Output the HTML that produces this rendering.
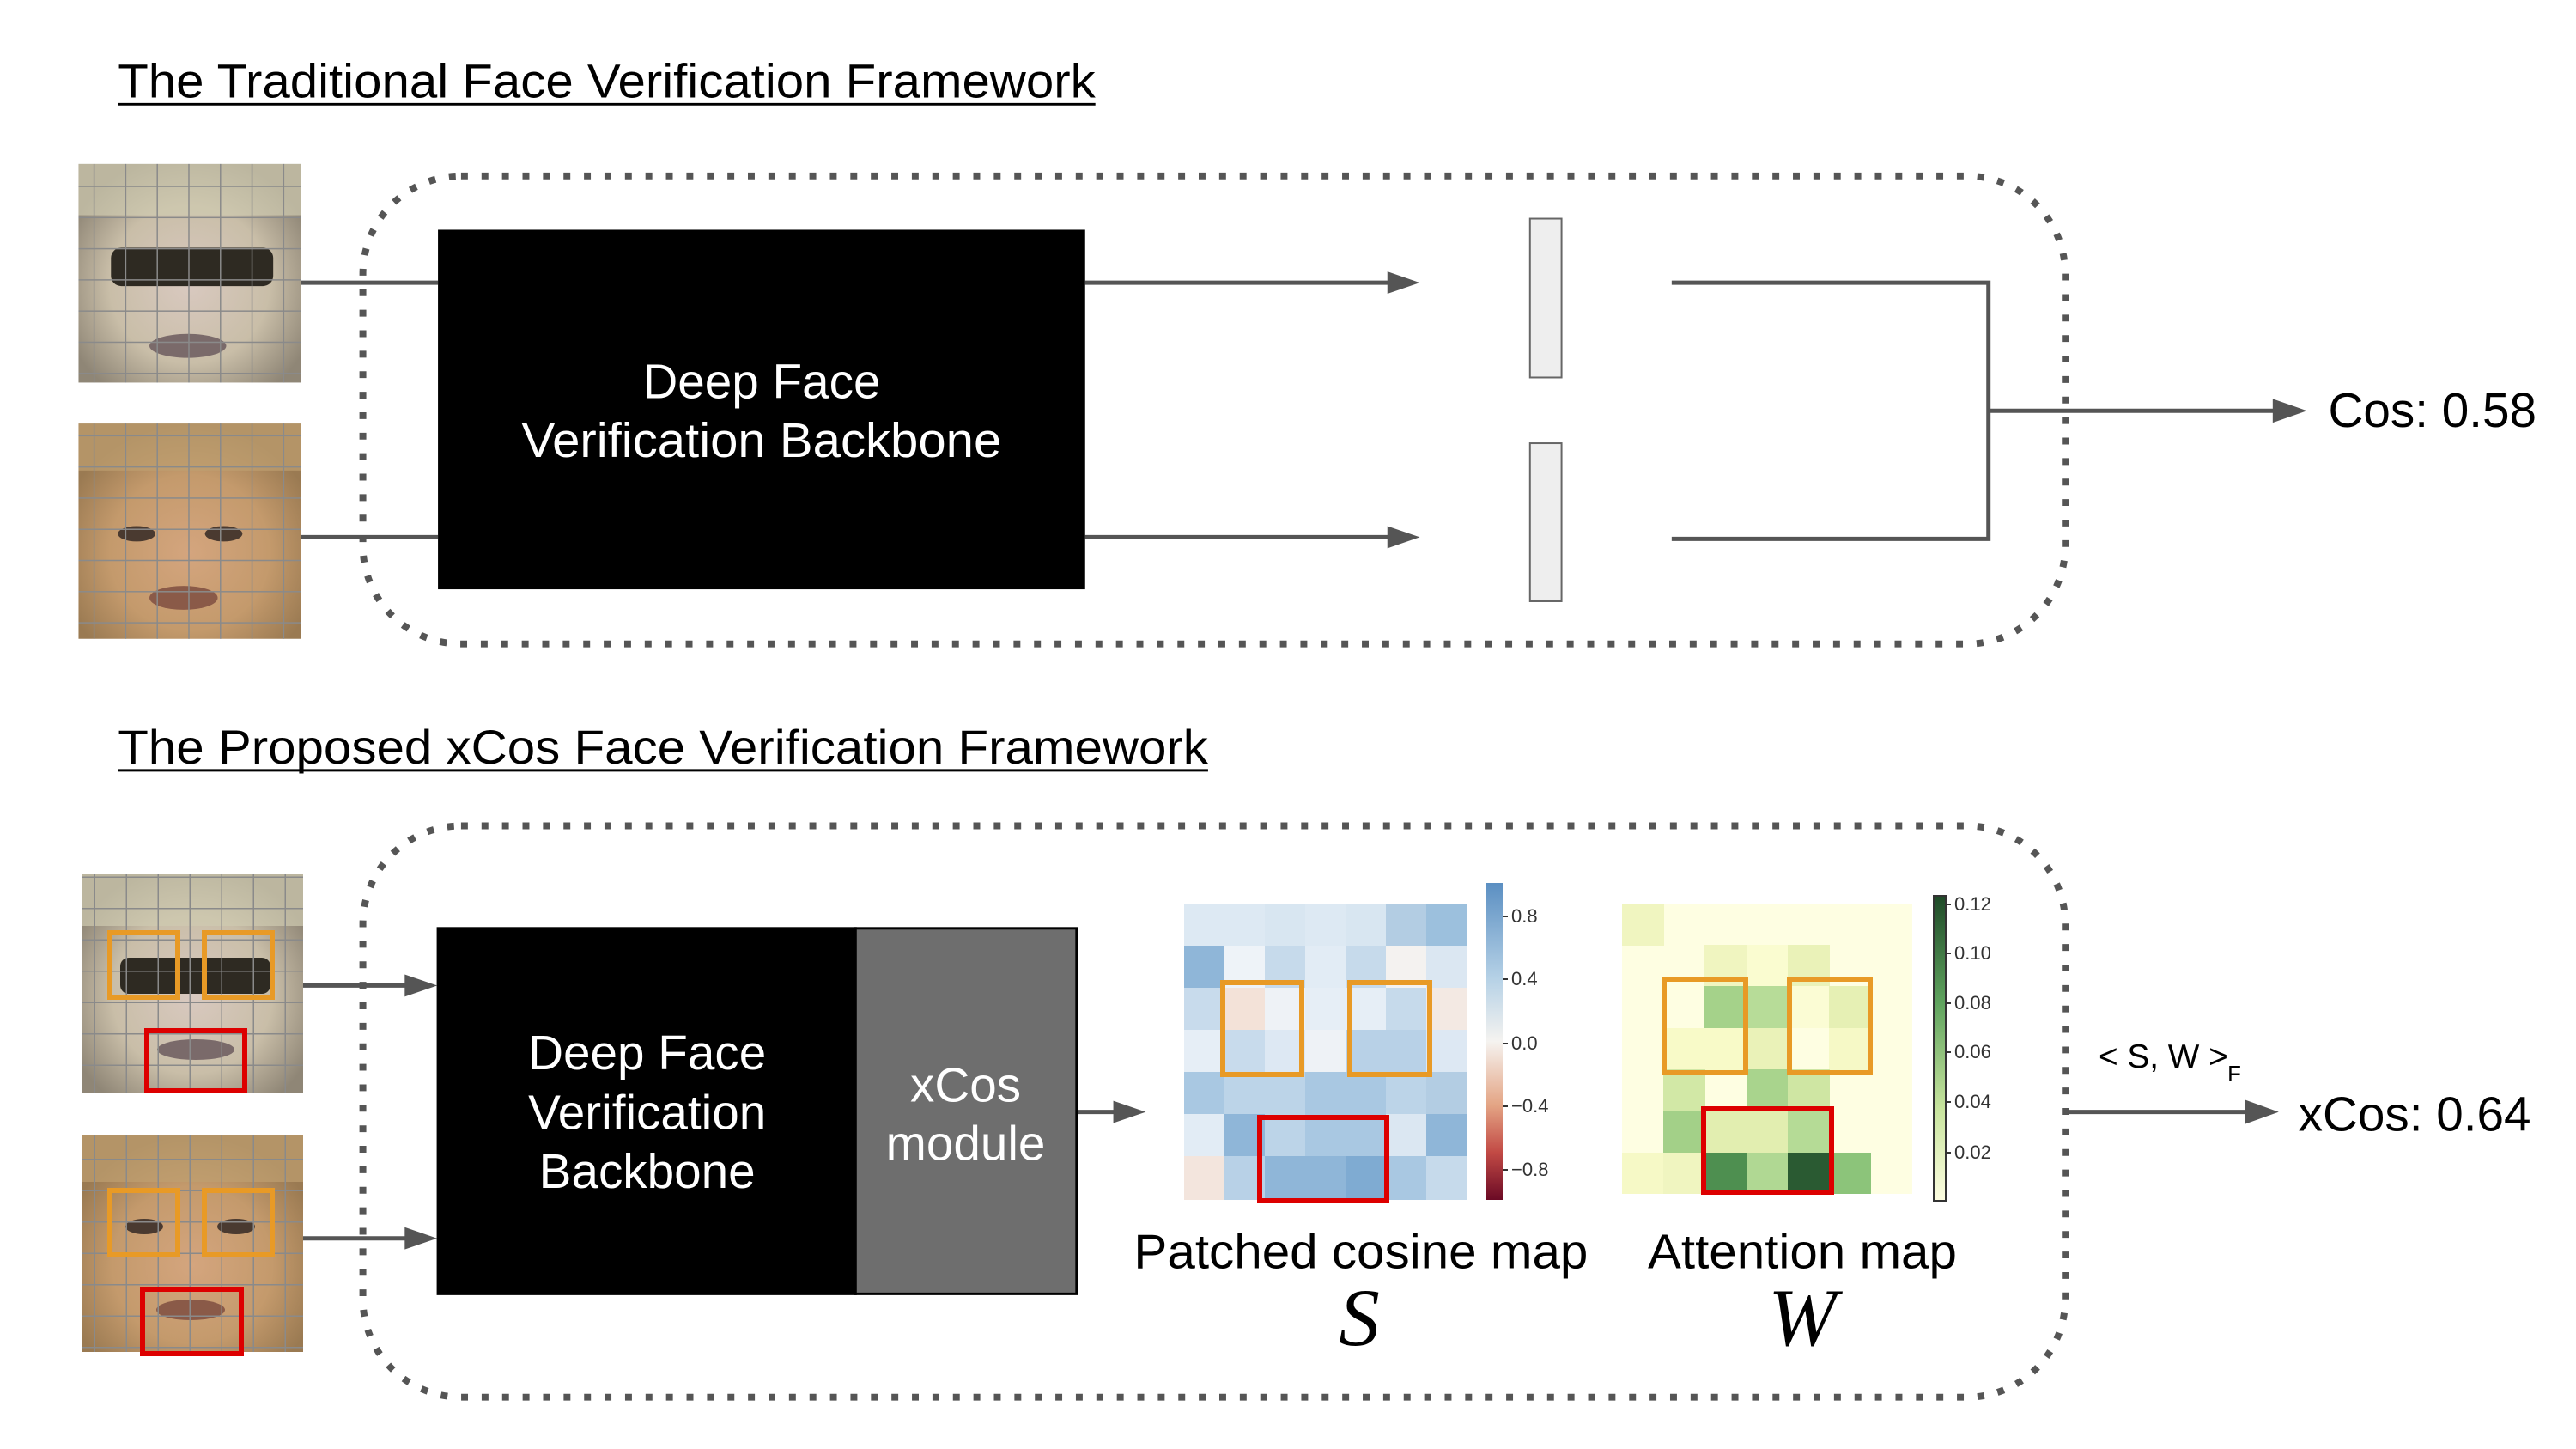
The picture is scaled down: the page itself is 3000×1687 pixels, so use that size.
<!DOCTYPE html>
<html><head><meta charset="utf-8"><style>
html,body{margin:0;padding:0;background:#fff;}
svg{display:block;}
text{font-family:"Liberation Sans",Arial,sans-serif;}
</style></head><body>
<svg width="3000" height="1687" viewBox="0 0 3000 1687" xmlns="http://www.w3.org/2000/svg">
<defs>
<pattern id="grid" x="0" y="0" width="37" height="36.5" patternUnits="userSpaceOnUse">
<path d="M37 0V36.5M0 36.5H37" stroke="#8a8a8a" stroke-width="3" fill="none"/>
</pattern>
<radialGradient id="skin1" cx="0.5" cy="0.55" r="0.6"><stop offset="0" stop-color="#d9c9c0"/><stop offset="0.6" stop-color="#c9bea8"/><stop offset="1" stop-color="#8f8676"/></radialGradient>
<radialGradient id="skin2" cx="0.5" cy="0.6" r="0.6"><stop offset="0" stop-color="#d4a57e"/><stop offset="0.6" stop-color="#c49a6c"/><stop offset="1" stop-color="#9a7a52"/></radialGradient>
<linearGradient id="cbS" x1="0" y1="0" x2="0" y2="1"><stop offset="0" stop-color="#5b8fc2"/><stop offset="0.3" stop-color="#b5d1e6"/><stop offset="0.5" stop-color="#f5f3f0"/><stop offset="0.7" stop-color="#e4a585"/><stop offset="0.85" stop-color="#c24a45"/><stop offset="1" stop-color="#6b0a25"/></linearGradient>
<linearGradient id="cbW" x1="0" y1="0" x2="0" y2="1"><stop offset="0" stop-color="#1f4a28"/><stop offset="0.35" stop-color="#5fa35e"/><stop offset="0.7" stop-color="#c8e49e"/><stop offset="1" stop-color="#fdfde0"/></linearGradient>
</defs>
<g transform="scale(0.9943)">

<!-- Titles -->
<text x="138" y="114" font-size="56" fill="#000" textLength="1145" lengthAdjust="spacingAndGlyphs">The Traditional Face Verification Framework</text>
<line x1="138" y1="122" x2="1283" y2="122" stroke="#000" stroke-width="3"/>
<text x="138" y="894" font-size="56" fill="#000" textLength="1277" lengthAdjust="spacingAndGlyphs">The Proposed xCos Face Verification Framework</text>
<line x1="138" y1="902" x2="1415" y2="902" stroke="#000" stroke-width="3"/>

<!-- Dotted frames -->
<rect x="425" y="206" width="1994" height="548" rx="115" fill="none" stroke="#555" stroke-width="8" stroke-dasharray="8 16"/>
<rect x="425" y="967" width="1994" height="669" rx="115" fill="none" stroke="#555" stroke-width="8" stroke-dasharray="8 16"/>

<!-- Faces top -->
<g>
<rect x="92" y="192" width="260" height="256" fill="url(#skin1)"/>
<rect x="92" y="192" width="260" height="60" fill="#cfcbb0" opacity="0.7"/>
<rect x="130" y="290" width="190" height="45" rx="12" fill="#2e2a22"/>
<ellipse cx="220" cy="405" rx="45" ry="14" fill="#7a6a6a"/>
<rect x="92" y="192" width="260" height="256" fill="url(#grid)"/>
</g>
<g>
<rect x="92" y="496" width="260" height="252" fill="url(#skin2)"/>
<rect x="92" y="496" width="260" height="55" fill="#bfa070" opacity="0.7"/>
<ellipse cx="160" cy="625" rx="22" ry="9" fill="#4a3a30"/>
<ellipse cx="262" cy="625" rx="22" ry="9" fill="#4a3a30"/>
<ellipse cx="215" cy="700" rx="40" ry="14" fill="#8a5a48"/>
<rect x="92" y="496" width="260" height="252" fill="url(#grid)"/>
</g>

<!-- Top connectors -->
<g stroke="#555" stroke-width="5" fill="none">
<line x1="352" y1="331" x2="513" y2="331"/>
<line x1="352" y1="629" x2="513" y2="629"/>
<line x1="1271" y1="331" x2="1630" y2="331"/>
<line x1="1271" y1="629" x2="1630" y2="629"/>
<polyline points="1958,331 2329,331 2329,631 1958,631"/>
<line x1="2329" y1="481" x2="2665" y2="481"/>
</g>
<g fill="#555">
<polygon points="1625,318 1663,331 1625,344"/>
<polygon points="1625,616 1663,629 1625,642"/>
<polygon points="2662,467 2702,481 2662,495"/>
</g>
<rect x="513" y="269" width="758" height="421" fill="#000"/>
<text x="892" y="466" font-size="57" fill="#fff" text-anchor="middle">Deep Face</text>
<text x="892" y="535" font-size="57" fill="#fff" text-anchor="middle" textLength="562" lengthAdjust="spacingAndGlyphs">Verification Backbone</text>
<rect x="1792" y="256" width="37" height="186" fill="#eee" stroke="#666" stroke-width="2"/>
<rect x="1792" y="519" width="37" height="185" fill="#eee" stroke="#666" stroke-width="2"/>
<text x="2727" y="500" font-size="57" fill="#000">Cos: 0.58</text>

<!-- Bottom connectors -->
<g stroke="#555" stroke-width="5">
<line x1="354" y1="1154" x2="480" y2="1154"/>
<line x1="354" y1="1450" x2="480" y2="1450"/>
<line x1="1261" y1="1302" x2="1310" y2="1302"/>
<line x1="2419" y1="1302" x2="2635" y2="1302"/>
</g>
<g fill="#555">
<polygon points="474,1141 512,1154 474,1167"/>
<polygon points="474,1437 512,1450 474,1463"/>
<polygon points="1304,1289 1342,1302 1304,1315"/>
<polygon points="2630,1288 2669,1302 2630,1316"/>
</g>
<rect x="513" y="1087" width="489" height="428" fill="#000" stroke="#000" stroke-width="3"/>
<rect x="1002" y="1087" width="259" height="428" fill="#6e6e6e" stroke="#000" stroke-width="3"/>
<text x="758" y="1252" font-size="57" fill="#fff" text-anchor="middle">Deep Face</text>
<text x="758" y="1322" font-size="57" fill="#fff" text-anchor="middle">Verification</text>
<text x="758" y="1391" font-size="57" fill="#fff" text-anchor="middle">Backbone</text>
<text x="1131" y="1290" font-size="57" fill="#fff" text-anchor="middle">xCos</text>
<text x="1131" y="1358" font-size="57" fill="#fff" text-anchor="middle">module</text>

<!-- Labels -->
<text x="1594" y="1485" font-size="57" text-anchor="middle" textLength="532" lengthAdjust="spacingAndGlyphs">Patched cosine map</text>
<text x="2111" y="1485" font-size="57" text-anchor="middle" textLength="362" lengthAdjust="spacingAndGlyphs">Attention map</text>
<text x="1592" y="1575" font-size="96" text-anchor="middle" font-style="italic" style="font-family:'Liberation Serif',serif">S</text>
<text x="2111" y="1575" font-size="96" text-anchor="middle" font-style="italic" style="font-family:'Liberation Serif',serif">W</text>
<text x="2458" y="1250" font-size="39">&lt; S, W &gt;</text>
<text x="2609" y="1266" font-size="26">F</text>
<text x="2692" y="1324" font-size="57">xCos: 0.64</text>
</g>

<!-- Faces bottom (unscaled coords) -->
<g>
<rect x="95" y="1018" width="258" height="255" fill="url(#skin1)"/>
<rect x="95" y="1018" width="258" height="60" fill="#cfcbb0" opacity="0.7"/>
<rect x="140" y="1115" width="175" height="42" rx="10" fill="#2e2a22"/>
<ellipse cx="228" cy="1222" rx="45" ry="12" fill="#7a6a6a"/>
<rect x="95" y="1018" width="258" height="255" fill="url(#grid)"/>
<g fill="none" stroke-width="6">
<rect x="128" y="1086" width="79" height="75" stroke="#e89a26"/>
<rect x="238" y="1086" width="79" height="75" stroke="#e89a26"/>
<rect x="171" y="1200" width="114" height="70" stroke="#d00"/>
</g>
</g>
<g>
<rect x="95" y="1321" width="258" height="253" fill="url(#skin2)"/>
<rect x="95" y="1321" width="258" height="55" fill="#bfa070" opacity="0.7"/>
<ellipse cx="168" cy="1428" rx="22" ry="9" fill="#4a3a30"/>
<ellipse cx="275" cy="1428" rx="22" ry="9" fill="#4a3a30"/>
<ellipse cx="222" cy="1525" rx="40" ry="12" fill="#8a5a48"/>
<rect x="95" y="1321" width="258" height="253" fill="url(#grid)"/>
<g fill="none" stroke-width="6">
<rect x="128" y="1386" width="79" height="75" stroke="#e89a26"/>
<rect x="238" y="1386" width="79" height="75" stroke="#e89a26"/>
<rect x="166" y="1501" width="115" height="75" stroke="#d00"/>
</g>
</g>

<!-- S heatmap (unscaled coords) -->
<g transform="translate(1379,1052)">
<rect x="0" y="0" width="48" height="50" fill="#dde9f3"/><rect x="47" y="0" width="48" height="50" fill="#dde9f3"/><rect x="94" y="0" width="48" height="50" fill="#d8e6f1"/><rect x="141" y="0" width="48" height="50" fill="#dde9f3"/><rect x="188" y="0" width="48" height="50" fill="#d8e6f1"/><rect x="235" y="0" width="48" height="50" fill="#b3cde3"/><rect x="282" y="0" width="48" height="50" fill="#9cc0dd"/>
<rect x="0" y="49" width="48" height="50" fill="#8fb6d8"/><rect x="47" y="49" width="48" height="50" fill="#eef3f8"/><rect x="94" y="49" width="48" height="50" fill="#c6daeb"/><rect x="141" y="49" width="48" height="50" fill="#e2ecf5"/><rect x="188" y="49" width="48" height="50" fill="#c6daeb"/><rect x="235" y="49" width="48" height="50" fill="#f4f2f0"/><rect x="282" y="49" width="48" height="50" fill="#dbe7f2"/>
<rect x="0" y="98" width="48" height="50" fill="#c8dbec"/><rect x="47" y="98" width="48" height="50" fill="#f3e2d8"/><rect x="94" y="98" width="48" height="50" fill="#eef2f6"/><rect x="141" y="98" width="48" height="50" fill="#e6eef6"/><rect x="188" y="98" width="48" height="50" fill="#e6eef6"/><rect x="235" y="98" width="48" height="50" fill="#c6daeb"/><rect x="282" y="98" width="48" height="50" fill="#f3e9e3"/>
<rect x="0" y="147" width="48" height="50" fill="#e6eef6"/><rect x="47" y="147" width="48" height="50" fill="#c8dbec"/><rect x="94" y="147" width="48" height="50" fill="#dde8f3"/><rect x="141" y="147" width="48" height="50" fill="#eef2f6"/><rect x="188" y="147" width="48" height="50" fill="#b8d1e7"/><rect x="235" y="147" width="48" height="50" fill="#b8d1e7"/><rect x="282" y="147" width="48" height="50" fill="#dde8f3"/>
<rect x="0" y="196" width="48" height="50" fill="#a9c8e2"/><rect x="47" y="196" width="48" height="50" fill="#bcd4e8"/><rect x="94" y="196" width="48" height="50" fill="#bcd4e8"/><rect x="141" y="196" width="48" height="50" fill="#a9c8e2"/><rect x="188" y="196" width="48" height="50" fill="#a9c8e2"/><rect x="235" y="196" width="48" height="50" fill="#bcd4e8"/><rect x="282" y="196" width="48" height="50" fill="#b3cde3"/>
<rect x="0" y="245" width="48" height="50" fill="#e2ecf5"/><rect x="47" y="245" width="48" height="50" fill="#8fb6d8"/><rect x="94" y="245" width="48" height="50" fill="#bcd4e8"/><rect x="141" y="245" width="48" height="50" fill="#a9c8e2"/><rect x="188" y="245" width="48" height="50" fill="#a9c8e2"/><rect x="235" y="245" width="48" height="50" fill="#dbe7f2"/><rect x="282" y="245" width="48" height="50" fill="#8fb6d8"/>
<rect x="0" y="294" width="48" height="51" fill="#f3e5dd"/><rect x="47" y="294" width="48" height="51" fill="#b8d1e7"/><rect x="94" y="294" width="48" height="51" fill="#8fb6d8"/><rect x="141" y="294" width="48" height="51" fill="#8fb6d8"/><rect x="188" y="294" width="48" height="51" fill="#7fabd2"/><rect x="235" y="294" width="48" height="51" fill="#a9c8e2"/><rect x="282" y="294" width="48" height="51" fill="#c6daeb"/>
</g>
<rect x="1731" y="1028" width="19" height="369" fill="url(#cbS)"/>
<g font-size="22" fill="#333">
<line x1="1750" y1="1067" x2="1756" y2="1067" stroke="#333" stroke-width="2"/><text x="1760" y="1074">0.8</text>
<line x1="1750" y1="1140" x2="1756" y2="1140" stroke="#333" stroke-width="2"/><text x="1760" y="1147">0.4</text>
<line x1="1750" y1="1215" x2="1756" y2="1215" stroke="#333" stroke-width="2"/><text x="1760" y="1222">0.0</text>
<line x1="1750" y1="1288" x2="1756" y2="1288" stroke="#333" stroke-width="2"/><text x="1760" y="1295">−0.4</text>
<line x1="1750" y1="1362" x2="1756" y2="1362" stroke="#333" stroke-width="2"/><text x="1760" y="1369">−0.8</text>
</g>
<g fill="none" stroke-width="6">
<rect x="1424" y="1144" width="92" height="107" stroke="#e89a26"/>
<rect x="1572" y="1144" width="93" height="107" stroke="#e89a26"/>
<rect x="1467" y="1301" width="148" height="97" stroke="#d00"/>
</g>

<!-- W heatmap (unscaled coords) -->
<g transform="translate(1889,1052)">
<rect x="0" y="0" width="338" height="338" fill="#fefee2"/>
<rect x="0" y="0" width="49" height="49" fill="#f0f5c0"/>
<rect x="96" y="48" width="49" height="49" fill="#f0f5c0"/><rect x="145" y="48" width="49" height="49" fill="#fafcd0"/><rect x="193" y="48" width="49" height="49" fill="#eaf2b8"/>
<rect x="96" y="96" width="49" height="49" fill="#a5d28a"/><rect x="145" y="96" width="49" height="49" fill="#b7dc98"/><rect x="193" y="96" width="49" height="49" fill="#fbfcd4"/><rect x="241" y="96" width="49" height="49" fill="#e6f0b4"/>
<rect x="48" y="145" width="49" height="49" fill="#f8fac8"/><rect x="96" y="145" width="49" height="49" fill="#f8fac8"/><rect x="145" y="145" width="49" height="49" fill="#eaf2b8"/><rect x="241" y="145" width="49" height="49" fill="#f6f9c6"/>
<rect x="48" y="193" width="49" height="49" fill="#d2e8a6"/><rect x="145" y="193" width="49" height="49" fill="#a9d48d"/><rect x="193" y="193" width="49" height="49" fill="#cfe6a3"/>
<rect x="48" y="241" width="49" height="49" fill="#a3d088"/><rect x="96" y="241" width="49" height="49" fill="#e2eeb0"/><rect x="145" y="241" width="49" height="49" fill="#e2eeb0"/><rect x="193" y="241" width="49" height="49" fill="#b5db96"/>
<rect x="0" y="290" width="49" height="48" fill="#f6f9c6"/><rect x="48" y="290" width="49" height="48" fill="#f0f5c0"/><rect x="96" y="290" width="49" height="48" fill="#4e8f50"/><rect x="145" y="290" width="49" height="48" fill="#b0d893"/><rect x="193" y="290" width="49" height="48" fill="#2a5a32"/><rect x="241" y="290" width="49" height="48" fill="#8cc47a"/>
</g>
<rect x="2252" y="1043" width="14" height="355" fill="url(#cbW)" stroke="#333" stroke-width="2"/>
<g font-size="22" fill="#333">
<line x1="2266" y1="1053" x2="2272" y2="1053" stroke="#333" stroke-width="2"/><text x="2276" y="1060">0.12</text>
<line x1="2266" y1="1110" x2="2272" y2="1110" stroke="#333" stroke-width="2"/><text x="2276" y="1117">0.10</text>
<line x1="2266" y1="1168" x2="2272" y2="1168" stroke="#333" stroke-width="2"/><text x="2276" y="1175">0.08</text>
<line x1="2266" y1="1225" x2="2272" y2="1225" stroke="#333" stroke-width="2"/><text x="2276" y="1232">0.06</text>
<line x1="2266" y1="1283" x2="2272" y2="1283" stroke="#333" stroke-width="2"/><text x="2276" y="1290">0.04</text>
<line x1="2266" y1="1342" x2="2272" y2="1342" stroke="#333" stroke-width="2"/><text x="2276" y="1349">0.02</text>
</g>
<g fill="none" stroke-width="6">
<rect x="1938" y="1140" width="95" height="109" stroke="#e89a26"/>
<rect x="2084" y="1140" width="94" height="109" stroke="#e89a26"/>
<rect x="1984" y="1291" width="149" height="97" stroke="#d00"/>
</g>
</svg>
</body></html>
